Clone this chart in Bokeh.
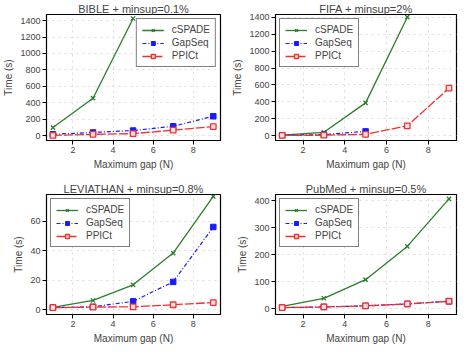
from bokeh.plotting import figure
from bokeh.layouts import gridplot
from bokeh.models import Range1d, FixedTicker, Legend, LegendItem
from bokeh.embed import file_html
from bokeh.resources import INLINE

# ---- data ----
gaps = [1, 3, 5, 7, 9]

bible_cspade = [98, 456, 1425]
bible_gapseq = [16, 39, 62, 114, 236]
bible_ppict = [3, 16, 24, 67, 110]

fifa_cspade = [5, 39, 388, 1403]
fifa_gapseq = [5, 12, 50]
fifa_ppict = [2, 5, 15, 116, 562]

lev_cspade = [1.5, 6.2, 16.8, 38.3, 76.7]
lev_gapseq = [1.4, 1.9, 5.6, 18.8, 56.0]
lev_ppict = [1.3, 1.7, 1.9, 3.3, 4.8]

pub_cspade = [9, 39, 108, 231, 407]
pub_gapseq = [4.5, 7, 11, 18, 28]
pub_ppict = [4.5, 7, 11, 18, 28]

titles = ["BIBLE + minsup=0.1%", "FIFA + minsup=2%",
          "LEVIATHAN + minsup=0.8%", "PubMed + minsup=0.5%"]
series_names = ["cSPADE", "GapSeq", "PPICt"]

GREEN = "#2b7d2b"
BLUE = "#1a1aff"
RED = "#f03030"
FONT = "Liberation Sans"


def panel(title, cs, gs, pp, yr, yticks, legend_loc, w, h, bl, br, bt, bb):
    p = figure(width=w, height=h, output_backend="svg", toolbar_location=None,
               x_range=Range1d(0.68, 9.36), y_range=Range1d(*yr),
               min_border_left=bl, min_border_right=br,
               min_border_top=bt, min_border_bottom=bb)
    p.title.text = title
    p.title.align = "center"
    p.title.text_font = FONT
    p.title.text_font_size = "11px"
    p.title.text_font_style = "normal"
    p.title.standoff = 0
    p.title.offset = 0
    p.outline_line_color = "black"
    p.outline_line_width = 1.2
    p.xaxis.ticker = FixedTicker(ticks=[2, 4, 6, 8])
    p.yaxis.ticker = FixedTicker(ticks=yticks)
    p.xaxis.axis_label = "Maximum gap (N)"
    p.yaxis.axis_label = "Time (s)"
    for ax in (p.xaxis[0], p.yaxis[0]):
        ax.axis_label_text_font = FONT
        ax.axis_label_text_font_size = "10px"
        ax.axis_label_text_font_style = "normal"
        ax.major_label_text_font = FONT
        ax.major_label_text_font_size = "9px"
        ax.major_tick_in = 0
        ax.major_tick_out = 4
        ax.minor_tick_line_color = None
        ax.axis_line_color = "black"
        ax.major_tick_line_color = "black"
        ax.axis_label_standoff = 3
        ax.major_label_standoff = 2
    for g in (p.xgrid[0], p.ygrid[0]):
        g.grid_line_color = "#dadada"
        g.grid_line_dash = "dotted"

    items = []
    l1 = p.line(gaps[:len(cs)], cs, line_color=GREEN, line_width=1.3)
    m1 = p.scatter(gaps[:len(cs)], cs, marker="x", size=6, line_color=GREEN, line_width=1.3)
    items.append(LegendItem(label=series_names[0], renderers=[l1, m1]))
    l2 = p.line(gaps[:len(gs)], gs, line_color=BLUE, line_width=1.2, line_dash="4 2 1 2")
    m2 = p.scatter(gaps[:len(gs)], gs, marker="square", size=5.5, line_color=BLUE, fill_color=BLUE)
    items.append(LegendItem(label=series_names[1], renderers=[l2, m2]))
    l3 = p.line(gaps[:len(pp)], pp, line_color=RED, line_width=1.3, line_dash="9 2")
    m3 = p.scatter(gaps[:len(pp)], pp, marker="square", size=5.5, line_color=RED,
                   fill_color="#ffe0e0", line_width=1.3)
    items.append(LegendItem(label=series_names[2], renderers=[l3, m3]))

    leg = Legend(items=items, location=legend_loc)
    leg.border_line_color = "black"
    leg.border_line_width = 1.2
    leg.label_text_font = FONT
    leg.label_text_font_size = "10px"
    leg.glyph_width = 22
    leg.glyph_height = 10
    leg.label_height = 10
    leg.spacing = 2
    leg.padding = 5
    leg.margin = 4
    leg.label_standoff = 8
    p.add_layout(leg)
    return p


p1 = panel(titles[0], bible_cspade, bible_gapseq, bible_ppict, (-59, 1474),
           [0, 200, 400, 600, 800, 1000, 1200, 1400], "top_right",
           229, 172, 40, 9, 12, 31)
p2 = panel(titles[1], fifa_cspade, fifa_gapseq, fifa_ppict, (-58, 1435),
           [0, 200, 400, 600, 800, 1000, 1200, 1400], "top_left",
           229, 172, 46, 2, 12, 31)
p3 = panel(titles[2], lev_cspade, lev_gapseq, lev_ppict, (-3.3, 78),
           [0, 20, 40, 60], "top_left",
           229, 174, 40, 5, 22, 31)
p4 = panel(titles[3], pub_cspade, pub_gapseq, pub_ppict, (-21, 423),
           [0, 100, 200, 300, 400], "top_left",
           229, 174, 46, 2, 22, 31)

grid = gridplot([[p1, p2], [p3, p4]], toolbar_location=None)

open("out.html", "w").write(file_html(grid, INLINE))
